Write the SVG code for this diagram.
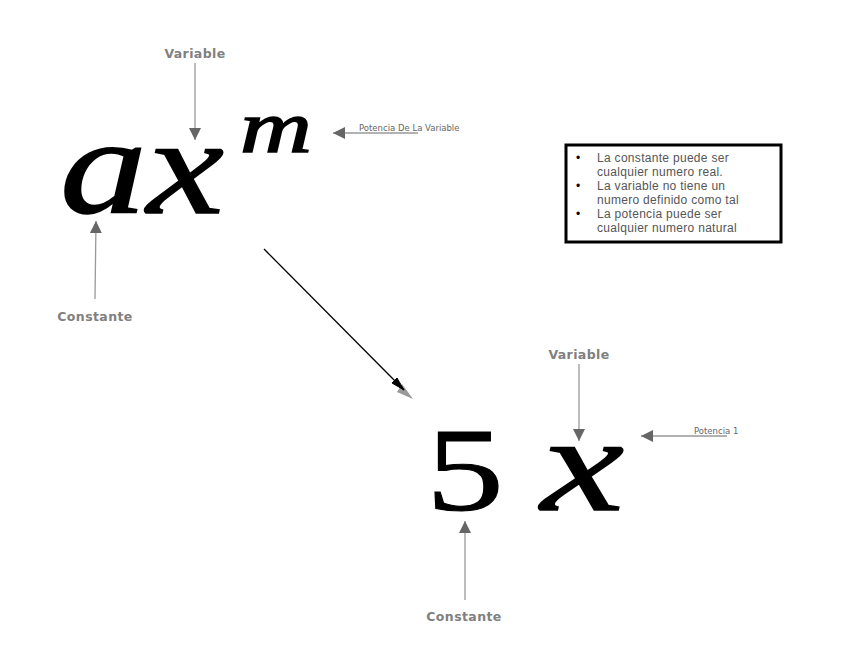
<svg xmlns="http://www.w3.org/2000/svg" width="857" height="651" viewBox="0 0 857 651">
<style>
.lbl{font-family:"DejaVu Sans",sans-serif;font-weight:bold;font-size:12.5px;fill:#808080;text-anchor:middle;letter-spacing:0.4px}
.sm{font-family:"DejaVu Sans",sans-serif;font-size:8.5px;fill:#666;}
.math{font-family:"Liberation Serif","Times New Roman",serif;font-style:italic;fill:#000;stroke:#000;stroke-width:1.5}
.num{font-family:"Liberation Serif","Times New Roman",serif;fill:#000;stroke:#000;stroke-width:1}
.ln{stroke:#999;stroke-width:1.3;fill:none}
.bl{font-family:"Liberation Sans",sans-serif;font-size:12px;fill:#555;letter-spacing:0.3px}
</style>
<defs>
<marker id="ah" markerWidth="12" markerHeight="12" refX="10" refY="5" orient="auto" markerUnits="userSpaceOnUse" viewBox="0 0 10 10">
<path d="M0,0 L10,5 L0,10 z" fill="#666"/>
</marker>
</defs>
<rect width="857" height="651" fill="#fff"/>
<g id="formula1">
<text class="math" x="60" y="213" font-size="138" textLength="164" lengthAdjust="spacingAndGlyphs">ax</text>
<text class="math" x="240" y="152" font-size="74" textLength="72" lengthAdjust="spacingAndGlyphs">m</text>
</g>
<g id="formula2">
<text class="num" x="426" y="510" font-size="118" textLength="78" lengthAdjust="spacingAndGlyphs">5</text>
<text class="math" x="541" y="510" font-size="135" textLength="83" lengthAdjust="spacingAndGlyphs">x</text>
</g>
<g id="label-variable1"><text class="lbl" x="195" y="58">Variable</text></g>
<g id="label-constante1"><text class="lbl" x="95" y="321">Constante</text></g>
<g id="label-potencia1"><text class="sm" x="359" y="131">Potencia De La Variable</text></g>
<g id="label-variable2"><text class="lbl" x="579" y="359">Variable</text></g>
<g id="label-constante2"><text class="lbl" x="464" y="621">Constante</text></g>
<g id="label-potencia2"><text class="sm" x="694" y="434">Potencia 1</text></g>
<g id="notes">
<rect x="566" y="145" width="215" height="97" fill="#fff" stroke="#000" stroke-width="3"/>
<text class="bl">
<tspan x="576" y="162" fill="#000">•</tspan><tspan x="597" y="162">La constante puede ser</tspan>
<tspan x="597" y="176">cualquier numero real.</tspan>
<tspan x="576" y="190" fill="#000">•</tspan><tspan x="597" y="190">La variable no tiene un</tspan>
<tspan x="597" y="204">numero definido como tal</tspan>
<tspan x="576" y="218" fill="#000">•</tspan><tspan x="597" y="218">La potencia puede ser</tspan>
<tspan x="597" y="232">cualquier numero natural</tspan>
</text>
</g>
<g id="connectors">
<line class="ln" x1="195" y1="63" x2="195" y2="140" marker-end="url(#ah)"/>
<line class="ln" x1="95" y1="299" x2="96" y2="221" marker-end="url(#ah)"/>
<line class="ln" x1="418" y1="133" x2="333" y2="133" marker-end="url(#ah)"/>
<line class="ln" x1="579" y1="364" x2="579" y2="441" marker-end="url(#ah)"/>
<line class="ln" x1="727" y1="436" x2="641" y2="436" marker-end="url(#ah)"/>
<line class="ln" x1="465" y1="600" x2="465" y2="521" marker-end="url(#ah)"/>
<path d="M402,384 L413,399 L397,392 z" fill="#999"/>
<line x1="264" y1="249" x2="404" y2="390" stroke="#000" stroke-width="1.3"/>
<path d="M404,390 L392,383 L397,378 z" fill="#000" stroke="#000" stroke-width="1"/>
</g>
</svg>
